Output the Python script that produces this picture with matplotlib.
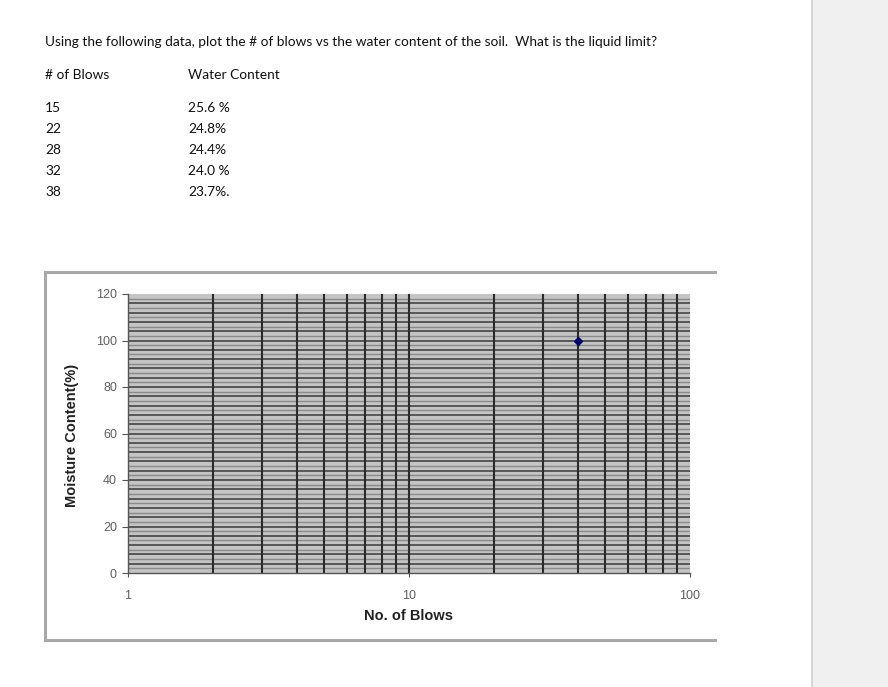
import numpy as np
import matplotlib
matplotlib.use("Agg")
import matplotlib.pyplot as plt
from matplotlib.lines import Line2D
from matplotlib.patches import Rectangle

# table in the document
blows = [15, 22, 28, 32, 38]
water_txt = ["25.6 %", "24.8%", "24.4%", "24.0 %", "23.7%."]

# the single point drawn in the chart
pt_blows = [40]
pt_moist = [100]

yticks = [0, 20, 40, 60, 80, 100, 120]
xticklabels = ["1", "10", "100"]

W, H = 888, 687
fig = plt.figure(figsize=(W / 100, H / 100), dpi=100)
fig.patch.set_facecolor("white")


def fx(x):
    return x / W


def fy(y):
    return 1 - y / H


# gray side panel
fig.patches.append(Rectangle((fx(812), 0), fx(W - 812), 1, transform=fig.transFigure,
                             facecolor="#f0f0f0", edgecolor="none", zorder=0))
fig.lines.append(Line2D([fx(812), fx(812)], [0, 1], transform=fig.transFigure,
                        color="#cfcfcf", lw=1.2))

doc_font = "Lato"
fs = 9.9
fig.text(fx(45), fy(42), "Using the following data, plot the # of blows vs the water content of the soil.  What is the liquid limit?",
         family=doc_font, fontsize=fs, va="center", ha="left", color="#111111")
fig.text(fx(45), fy(75), "# of Blows", family=doc_font, fontsize=fs, va="center", color="#111111")
fig.text(fx(188), fy(75), "Water Content", family=doc_font, fontsize=fs, va="center", color="#111111")
for i, (b, w) in enumerate(zip(blows, water_txt)):
    yy = 108 + i * 21
    fig.text(fx(45), fy(yy), str(b), family=doc_font, fontsize=fs, va="center", color="#111111")
    fig.text(fx(188), fy(yy), w, family=doc_font, fontsize=fs, va="center", color="#111111")

# chart border (top, left, bottom)
for xs, ys in [([45, 715], [272, 272]), ([45, 45], [272, 640]), ([45, 715], [640, 640])]:
    fig.lines.append(Line2D([fx(v) for v in xs], [fy(v) for v in ys], transform=fig.transFigure,
                            color="#a8a8a8", lw=2.2))

ax = fig.add_axes([fx(128), fy(573), fx(690 - 128), (573 - 294) / H])
ax.set_facecolor("#c4c4c4")
ax.set_xscale("log")
ax.set_xlim(1, 100)
ax.set_ylim(0, 120)

# grid lines
for v in np.arange(2, 120, 2):
    if v % 4 == 0:
        ax.axhline(v, color="#444444", lw=1.2, zorder=1)
    else:
        ax.axhline(v, color="#8a8a8a", lw=1.0, zorder=1)
for d in [1, 10]:
    for m in range(2, 10):
        ax.axvline(d * m, color="#2a2a2a", lw=1.5, zorder=1)
ax.axvline(10, color="#2a2a2a", lw=1.5, zorder=1)

ax.plot(pt_blows, pt_moist, marker="D", ms=4, color="#000066", ls="none", zorder=3)

for s in ["top", "right"]:
    ax.spines[s].set_visible(False)
for s in ["left", "bottom"]:
    ax.spines[s].set_color("#555555")
    ax.spines[s].set_linewidth(1.0)

ax.set_yticks(yticks)
ax.set_yticklabels([str(v) for v in yticks])
ax.set_xticks([1, 10, 100])
ax.set_xticklabels(xticklabels)
ax.xaxis.set_minor_locator(matplotlib.ticker.NullLocator())
ax.tick_params(axis="y", length=4, color="#555555", labelsize=9, labelcolor="#606060", pad=4)
ax.tick_params(axis="x", length=3, color="#555555", labelsize=9, labelcolor="#606060", pad=9)
for t in ax.get_xticklabels() + ax.get_yticklabels():
    t.set_family("Liberation Sans")

ax.set_xlabel("No. of Blows", family="Liberation Sans", fontsize=10.5, fontweight="bold",
              color="#222222", labelpad=5)
fig.text(fx(72), fy(435), "Moisture Content(%)", family="Liberation Sans", fontsize=10.5,
         fontweight="bold", color="#222222", rotation=90, ha="center", va="center")

fig.savefig("out.png", dpi=100)
